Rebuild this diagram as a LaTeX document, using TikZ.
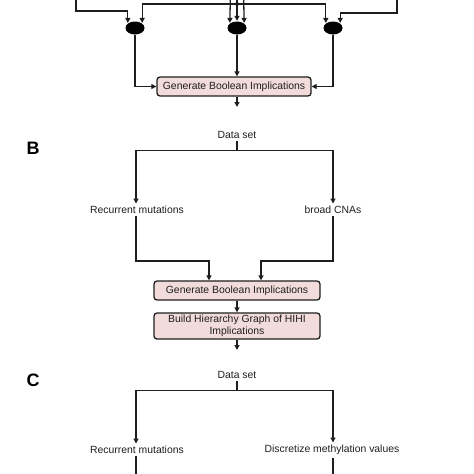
\documentclass[tikz,border=0pt]{standalone}
\usepackage{fontspec}
\setmainfont{Liberation Sans}
\usetikzlibrary{shapes.geometric,arrows.meta}
\definecolor{boxfill}{HTML}{F2DCDB}
\definecolor{ink}{HTML}{1E1E1E}
\begin{document}
\begin{tikzpicture}[x=1pt,y=-1pt,
  line width=1.3pt, draw=ink,
  arr/.style={-{Triangle[length=5pt,width=5pt]}},
  ell/.style={ellipse,fill=black,draw=none,minimum width=19pt,minimum height=13pt,inner sep=0pt},
  lbl/.style={font=\fontsize{10.4}{11.5}\selectfont,text=ink,inner sep=2pt},
  stepbox/.style={draw=ink,fill=boxfill,rounded corners=3pt,font=\fontsize{10.4}{11.5}\selectfont,text=ink,align=center,inner sep=1pt},
  panel/.style={font=\fontsize{18}{18}\bfseries\selectfont,text=black}]
\useasboundingbox (0,0) rectangle (474,474);
% ---------- Panel A (bottom part) ----------
\node[ell] (eL) at (135,28) {};
\node[ell] (eM) at (237,28) {};
\node[ell] (eR) at (333,28) {};
\coordinate (a1) at (76,0);
\coordinate (a2) at (397,0);
\coordinate (m1) at (230.3,0);
\coordinate (m2) at (237,0);
\coordinate (m3) at (243.7,0);
\coordinate (kA1) at (76,11);
\coordinate (kA2) at (397,13);
\coordinate (dot) at (237,4);
\draw[arr] (a1) -- (kA1) -| (eL.north west);
\draw[arr] (a2) -- (kA2) -| (eR.north east);
\draw[arr] (dot) -| (eL.north east);
\draw[arr] (dot) -| (eR.north west);
\draw[arr] (m1) -- (eM.north west);
\draw[arr] (m2) -- (eM.north);
\draw[arr] (m3) -- (eM.north east);
\fill[ink] (dot) circle (2pt);
\node[stepbox,minimum width=154pt,minimum height=19pt] (g1) at (234,86.5) {Generate Boolean Implications};
\draw[arr] (eL.south) |- (g1.west);
\draw[arr] (eR.south) |- (g1.east);
\draw[arr] (eM.south) -- (eM.south |- g1.north);
\coordinate (endA) at (237,107);
\draw[arr] (g1.south -| endA) -- (endA);
% ---------- Panel B ----------
\node[panel] (pB) at (33,148) {B};
\node[lbl] (dB) at (237,135) {Data set};
\coordinate (jB) at (237,150.5);
\node[lbl] (rmB) at (137,210) {Recurrent mutations};
\node[lbl] (cnB) at (333,210) {broad CNAs};
\draw (dB.south) -- (jB);
\draw[arr] (jB) -| (rmB.north -| 136,0);
\draw[arr] (jB) -| (cnB.north);
\node[stepbox,minimum width=166pt,minimum height=19pt] (g2) at (237,290.5) {Generate Boolean Implications};
\node[stepbox,minimum width=166pt,minimum height=26pt] (g3) at (237,326) {Build Hierarchy Graph of HIHI\\Implications};
\coordinate (kB1) at (209,261);
\coordinate (kB2) at (261,261);
\draw[arr] (rmB.south -| 136,0) |- (kB1) -- (kB1 |- g2.north);
\draw[arr] (cnB.south) |- (kB2) -- (kB2 |- g2.north);
\draw[arr] (g2.south) -- (g3.north);
\coordinate (endB) at (237,350);
\draw[arr] (g3.south) -- (endB);
% ---------- Panel C ----------
\node[panel] (pC) at (33,380) {C};
\node[lbl] (dC) at (237,375) {Data set};
\coordinate (jC) at (237,390.5);
\node[lbl] (rmC) at (137,450) {Recurrent mutations};
\node[lbl] (dmC) at (332,450) {Discretize methylation values};
\draw (dC.south) -- (jC);
\draw[arr] (jC) -| (rmC.north -| 136,0);
\draw[arr] (jC) -| (dmC.north -| 333,0);
\coordinate (endC1) at (136,474);
\coordinate (endC2) at (333,474);
\draw (rmC.south -| endC1) -- (endC1);
\draw (dmC.south -| endC2) -- (endC2);
\end{tikzpicture}
\end{document}
